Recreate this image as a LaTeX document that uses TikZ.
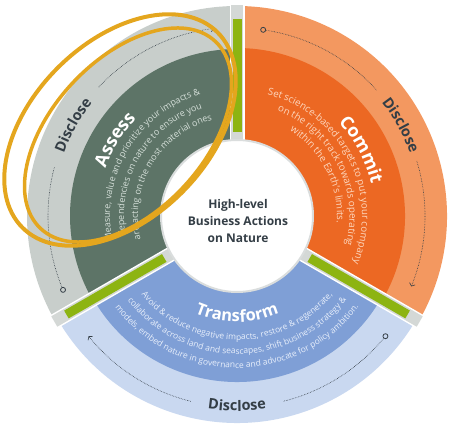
\documentclass[tikz,border=0pt]{standalone}
\usepackage{fontspec}
\setmainfont{Open Sans}
\usepackage{tikz}
\usetikzlibrary{decorations.text}
\usetikzlibrary{arrows.meta}
\usetikzlibrary{calc}

\definecolor{assessdark}{RGB}{93,116,103}
\definecolor{assesslight}{RGB}{200,206,203}
\definecolor{commitdark}{RGB}{236,104,35}
\definecolor{commitlight}{RGB}{243,152,96}
\definecolor{transformdark}{RGB}{127,159,214}
\definecolor{transformlight}{RGB}{201,216,240}
\definecolor{bargreen}{RGB}{141,180,18}
\definecolor{gapgray}{RGB}{212,216,214}
\definecolor{hubrim}{RGB}{218,221,221}
\definecolor{slate}{RGB}{52,62,70}
\definecolor{assesstext}{RGB}{214,224,218}
\definecolor{committext}{RGB}{253,215,190}
\definecolor{transformtext}{RGB}{232,239,251}
\definecolor{goldpen}{RGB}{228,166,30}

\newcommand{\sectitle}{\fontsize{18}{18}\selectfont\bfseries}
\newcommand{\transtitle}{\fontsize{16.5}{16.5}\selectfont\bfseries}
\newcommand{\assessbody}{\fontsize{9}{9}\selectfont}
\newcommand{\commitbody}{\fontsize{9.8}{9.8}\selectfont}
\newcommand{\transbody}{\fontsize{8.5}{8.5}\selectfont}
\newcommand{\discfont}{\fontsize{14.5}{14.5}\selectfont\bfseries}

\begin{document}
\begin{tikzpicture}[x=1pt,y=1pt,
	ringtext/.style={decorate,decoration={text along path,text align=center,text color=#1}},
	discline/.style={draw=slate,line width=0.6pt,densely dotted},
	dotend/.style={circle,draw=slate,line width=0.8pt,inner sep=0pt,minimum size=5pt},
	disctip/.style={-{Straight Barb[length=2.5pt,width=6pt]}}]
	\useasboundingbox (0,0) rectangle (474,434);
	\coordinate (c) at (237,218);

	\begin{scope}[shift={(c)}]
	% three sectors, light outer ring and dark inner ring
	\fill[assesslight] (0,0) -- (90:210pt) arc[start angle=90,end angle=210,radius=210pt] -- cycle;
	\fill[commitlight] (0,0) -- (-30:210pt) arc[start angle=-30,end angle=90,radius=210pt] -- cycle;
	\fill[transformlight] (0,0) -- (210:207pt) arc[start angle=210,end angle=330,radius=207pt] -- cycle;
	\fill[assessdark] (0,0) -- (90:167pt) arc[start angle=90,end angle=210,radius=167pt] -- cycle;
	\fill[commitdark] (0,0) -- (-30:168pt) arc[start angle=-30,end angle=90,radius=168pt] -- cycle;
	\fill[transformdark] (0,0) -- (210:166pt) arc[start angle=210,end angle=330,radius=166pt] -- cycle;

	% gaps with the green bars
	\foreach \a in {90,210,330} {
		\fill[white,rotate=\a] (60pt,-7.5pt) rectangle (213pt,7.5pt);
		\fill[gapgray,rotate=\a] (62pt,-6pt) rectangle (211pt,6pt);
		\fill[bargreen,rotate=\a] (84pt,-4.5pt) rectangle (197pt,4.5pt);
	}

	\node[circle,fill=white,draw=hubrim,line width=2pt,minimum size=152pt,inner sep=0pt] (hub) at (0,0) {};
	\node[align=center,font=\fontsize{12}{17}\selectfont\bfseries,text=slate] (hubtext) at (1pt,-5pt) {High-level\\Business Actions\\on Nature};

	% Assess
	\path[ringtext=white,decoration={text={|\sectitle|Assess}}] (178:140pt) arc[start angle=178,end angle=118,radius=140pt];
	\path[ringtext=assesstext,decoration={text={|\assessbody|Measure, value and prioritize your impacts {\&}}}] (209:127pt) arc[start angle=209,end angle=89,radius=127pt];
	\path[ringtext=assesstext,decoration={text={|\assessbody|dependencies on nature to ensure you}}] (209:113pt) arc[start angle=209,end angle=89,radius=113pt];
	\path[ringtext=assesstext,decoration={text={|\assessbody|are acting on the most material ones}}] (209:99pt) arc[start angle=209,end angle=89,radius=99pt];

	% Commit
	\path[ringtext=white,decoration={text={|\sectitle|Commit}}] (58:138pt) arc[start angle=58,end angle=-2,radius=138pt];
	\path[ringtext=committext,decoration={text={|\commitbody|Set science-based targets to put your company}}] (87:125pt) arc[start angle=87,end angle=-33,radius=125pt];
	\path[ringtext=committext,decoration={text={|\commitbody|on the right track towards operating}}] (87:112.5pt) arc[start angle=87,end angle=-33,radius=112.5pt];
	\path[ringtext=committext,decoration={text={|\commitbody|within the Earth's limits.}}] (87:100pt) arc[start angle=87,end angle=-33,radius=100pt];

	% Transform
	\path[ringtext=white,decoration={text={|\transtitle|Transform}}] (225:106pt) arc[start angle=225,end angle=315,radius=106pt];
	\path[ringtext=transformtext,decoration={text={|\transbody|Avoid {\&} reduce negative impacts, restore {\&} regenerate,}}] (200:124pt) arc[start angle=200,end angle=340,radius=124pt];
	\path[ringtext=transformtext,decoration={text={|\transbody|collaborate across land and seascapes, shift business strategy {\&}}}] (200:138pt) arc[start angle=200,end angle=340,radius=138pt];
	\path[ringtext=transformtext,decoration={text={|\transbody|models, embed nature in governance and advocate for policy ambition.}}] (200:152pt) arc[start angle=200,end angle=340,radius=152pt];

	% Disclose rings
	\path[ringtext=slate,decoration={text={|\discfont|Disclose}}] (181:184pt) arc[start angle=181,end angle=121,radius=184pt];
	\path[ringtext=slate,decoration={text={|\discfont|Disclose}}] (59:184pt) arc[start angle=59,end angle=-1,radius=184pt];
	\path[ringtext=slate,decoration={text={|\discfont|Disclose}}] (240:195pt) arc[start angle=240,end angle=300,radius=195pt];

	\coordinate (lo) at (203:189pt);
	\coordinate (lb) at (137:189pt);
	\coordinate (ro) at (82:188pt);
	\coordinate (rb) at (17:188pt);
	\coordinate (bo) at (321:191pt);
	\coordinate (bb) at (256:191pt);
	\draw[discline] (lo) arc[start angle=203,end angle=165,radius=189pt];
	\draw[discline,disctip] (lb) arc[start angle=137,end angle=97,radius=189pt];
	\draw[discline] (ro) arc[start angle=82,end angle=42,radius=188pt];
	\draw[discline,disctip] (rb) arc[start angle=17,end angle=-22,radius=188pt];
	\draw[discline] (bo) arc[start angle=321,end angle=284,radius=191pt];
	\draw[discline,disctip] (bb) arc[start angle=256,end angle=219,radius=191pt];
	\node[dotend,fill=assesslight] (lo-m) at (lo) {};
	\node[dotend,fill=commitlight] (ro-m) at (ro) {};
	\node[dotend,fill=transformlight] (bo-m) at (bo) {};
	\end{scope}

	% hand drawn highlight round Assess
	\draw[goldpen,line width=4pt,rotate around={45:(120,304)}] (120,304) ellipse [x radius=138pt,y radius=88pt];
	\draw[goldpen,line width=3.5pt,rotate around={47:(128,299)}] (128,299) ellipse [x radius=128pt,y radius=76pt];
\end{tikzpicture}
\end{document}
